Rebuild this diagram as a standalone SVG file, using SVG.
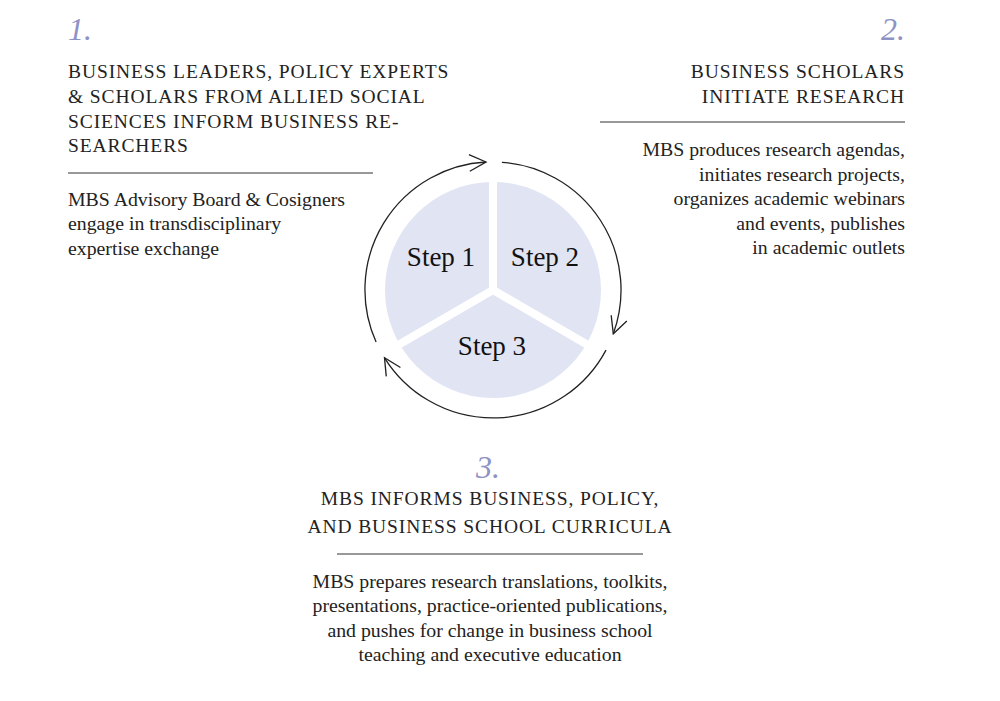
<svg xmlns="http://www.w3.org/2000/svg" width="1000" height="701" viewBox="0 0 1000 701">
<style>
.num{font-family:"Liberation Serif",serif;font-style:italic;font-size:32px;fill:#8e92c4}
.ttl{font-family:"Liberation Serif",serif;font-size:19.5px;fill:#222;letter-spacing:0.9px}
.body{font-family:"Liberation Serif",serif;font-size:19.8px;fill:#222}
.step{font-family:"Liberation Serif",serif;font-size:27px;fill:#111;text-anchor:middle}
.rule{stroke:#333;stroke-width:1}
.arc{fill:none;stroke:#222;stroke-width:1.3;marker-end:url(#ah)}
</style>
<defs>
<marker id="ah" viewBox="0 0 12 12" refX="11" refY="6" markerWidth="20" markerHeight="20" markerUnits="userSpaceOnUse" orient="auto">
<path d="M1,1 L11,6 L1,11" fill="none" stroke="#222" stroke-width="0.8"/>
</marker>
</defs>
<rect width="1000" height="701" fill="#fff"/>
<g id="pie">
<circle cx="493" cy="290" r="108" fill="#e1e4f3"/>
<g stroke="#fff" stroke-width="8">
<line x1="493" y1="290" x2="493" y2="175"/>
<line x1="493" y1="290" x2="593" y2="348"/>
<line x1="493" y1="290" x2="393" y2="348"/>
</g>
</g>
<g id="step1"><text class="step" x="441" y="266">Step 1</text></g>
<g id="step2"><text class="step" x="545" y="266">Step 2</text></g>
<g id="step3"><text class="step" x="492" y="355">Step 3</text></g>
<g id="connectors">
<path class="arc" d="M501.9,162.3 A128,128 0 0 1 613.3,333.8"/>
<path class="arc" d="M606,350.1 A128,128 0 0 1 384.5,357.8"/>
<path class="arc" d="M376.1,342.1 A128,128 0 0 1 486,162"/>
</g>
<g id="section1">
<text class="num" x="68" y="40">1.</text>
<text class="ttl" x="68" y="78">BUSINESS LEADERS, POLICY EXPERTS</text>
<text class="ttl" x="68" y="103">&amp; SCHOLARS FROM ALLIED SOCIAL</text>
<text class="ttl" x="68" y="128">SCIENCES INFORM BUSINESS RE-</text>
<text class="ttl" x="68" y="152">SEARCHERS</text>
<line class="rule" x1="68" y1="173" x2="373" y2="173"/>
<text class="body" x="68" y="206">MBS Advisory Board &amp; Cosigners</text>
<text class="body" x="68" y="230">engage in transdisciplinary</text>
<text class="body" x="68" y="255">expertise exchange</text>
</g>
<g id="section2" text-anchor="end">
<text class="num" x="905" y="40">2.</text>
<text class="ttl" x="905" y="78">BUSINESS SCHOLARS</text>
<text class="ttl" x="905" y="103">INITIATE RESEARCH</text>
<line class="rule" x1="600" y1="122" x2="905" y2="122"/>
<text class="body" x="905" y="156">MBS produces research agendas,</text>
<text class="body" x="905" y="181">initiates research projects,</text>
<text class="body" x="905" y="205">organizes academic webinars</text>
<text class="body" x="905" y="230">and events, publishes</text>
<text class="body" x="905" y="254">in academic outlets</text>
</g>
<g id="section3" text-anchor="middle">
<text class="num" x="488" y="478">3.</text>
<text class="ttl" x="490" y="505">MBS INFORMS BUSINESS, POLICY,</text>
<text class="ttl" x="490" y="533">AND BUSINESS SCHOOL CURRICULA</text>
<line class="rule" x1="337" y1="554" x2="643" y2="554"/>
<text class="body" x="490" y="588">MBS prepares research translations, toolkits,</text>
<text class="body" x="490" y="612">presentations, practice-oriented publications,</text>
<text class="body" x="490" y="637">and pushes for change in business school</text>
<text class="body" x="490" y="661">teaching and executive education</text>
</g>
</svg>
